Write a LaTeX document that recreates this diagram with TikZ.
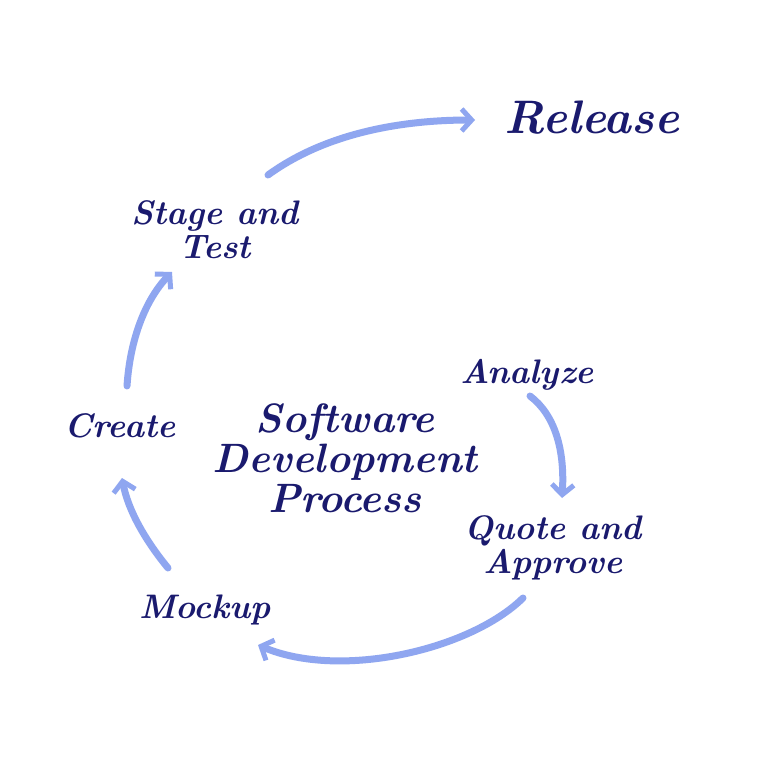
\documentclass[tikz,border=0pt]{standalone}
\usetikzlibrary{arrows.meta}
\definecolor{navy}{HTML}{1A1A6E}
\definecolor{arr}{HTML}{8FA6F0}
\begin{document}
\begin{tikzpicture}[x=1pt,y=-1pt,
  lab/.style={text=navy,font=\bfseries\itshape\fontsize{34}{34}\selectfont,align=center,inner sep=0pt},
  arc/.style={draw=arr,line width=7pt,line cap=round,-{Straight Barb[length=10pt,width=22pt,line width=5pt]}}]
\fill[white] (0,0) rectangle (768,768);
\useasboundingbox (0,0) rectangle (768,768);
\node[lab,font=\bfseries\itshape\fontsize{47}{47}\selectfont] (rel) at (592,118) {Release};
\node[lab] (st) at (215,230) {Stage and\\Test};
\node[lab] (cr) at (120,426) {Create};
\node[lab,font=\bfseries\itshape\fontsize{41}{40}\selectfont] (sdp) at (345,458) {Software\\Development\\Process};
\node[lab] (an) at (527,375) {Analyze};
\node[lab] (qa) at (553,548) {Quote and\\Approve};
\node[lab] (mo) at (205,610) {Mockup};
\coordinate (a1) at (268,175); \coordinate (b1) at (475,120);
\draw[arc] (a1) .. controls (330,130) and (410,120) .. (b1);
\coordinate (a2) at (127,386); \coordinate (b2) at (172,272);
\draw[arc] (a2) .. controls (130,340) and (145,300) .. (b2);
\coordinate (a3) at (168,568); \coordinate (b3) at (122,478);
\draw[arc] (a3) .. controls (145,540) and (128,510) .. (b3);
\coordinate (a4) at (523,598); \coordinate (b4) at (258,645);
\draw[arc] (a4) .. controls (470,650) and (340,680) .. (b4);
\coordinate (a5) at (530,396); \coordinate (b5) at (562,498);
\draw[arc] (a5) .. controls (555,415) and (565,450) .. (b5);
\end{tikzpicture}
\end{document}
